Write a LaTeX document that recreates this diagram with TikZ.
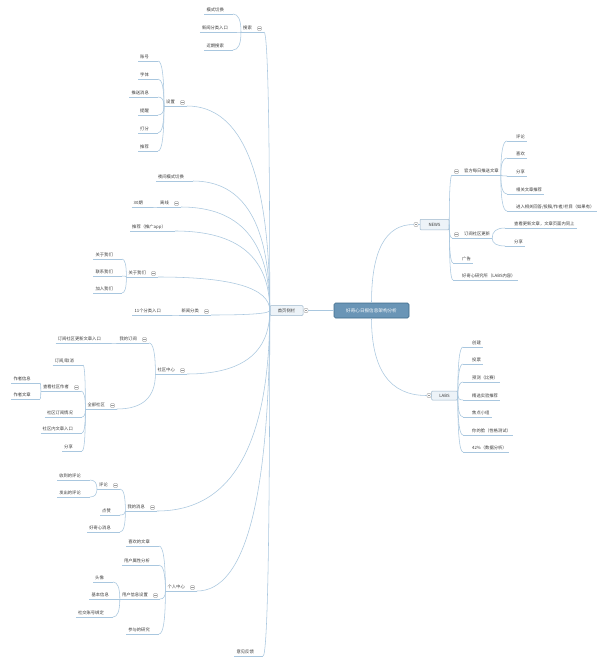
\documentclass[tikz,border=0pt]{standalone}
\usepackage{fontspec}
\setmainfont{Noto Sans CJK SC}
\usetikzlibrary{calc}
\definecolor{lc}{HTML}{A9C7DF}
\definecolor{txt}{HTML}{3A3A3A}
\definecolor{tg}{HTML}{9A9A9A}
\definecolor{cfill}{HTML}{6A95B6}
\definecolor{cdraw}{HTML}{3F6B8B}
\definecolor{bfill}{HTML}{EDF3F8}
\definecolor{bdraw}{HTML}{9DB7CC}
\tikzset{
  uline/.style={draw=lc, line width=0.55pt},
  cn/.style={draw=lc, line width=0.55pt},
  base/.style={font=\fontsize{4.3}{5}\selectfont, text=txt, inner xsep=2pt, inner ysep=1.2pt,
    text height=3.3pt, text depth=0.9pt,
    append after command={(\tikzlastnode.south west) edge[uline] (\tikzlastnode.south east)}},
  ll/.style={base, anchor=south east, execute at end node={\hspace{7pt}}},
  rl/.style={base, anchor=south west, execute at begin node={\hspace{7pt}}},
  lp/.style={base, anchor=south east, execute at end node={\hspace{10pt}},
    append after command={node[tog] at ([xshift=-4.5pt]\tikzlastnode.east) {}}},
  rp/.style={base, anchor=south west, execute at begin node={\hspace{10pt}},
    append after command={node[tog] at ([xshift=4.5pt]\tikzlastnode.west) {}}},
  tog/.style={circle, draw=tg, fill=white, line width=0.35pt, minimum size=4.6pt, inner sep=0pt,
    path picture={\draw[tg, line width=0.35pt] ([xshift=-1.3pt]path picture bounding box.center) -- ([xshift=1.3pt]path picture bounding box.center);}},
  br/.style={to path={.. controls ($(\tikztostart)!0.667!(\tikztotarget |- \tikztostart)$)
      and ($(\tikztotarget)!0.667!(\tikztotarget |- \tikztostart)$) .. (\tikztotarget)}},
  ctrbox/.style={rectangle, rounded corners=1.5pt, fill=cfill, draw=cdraw, line width=0.6pt, text=white,
    font=\fontsize{4.6}{5.5}\selectfont, minimum width=75pt, minimum height=15pt, inner sep=0pt},
  box/.style={rectangle, rounded corners=1pt, fill=bfill, draw=bdraw, line width=0.5pt, text=txt,
    font=\fontsize{4.3}{5}\selectfont, inner sep=0pt},
}
\begin{document}
\begin{tikzpicture}[x=1pt,y=-1pt]
\fill[white] (0,0) rectangle (600,663);
\useasboundingbox (0,0) rectangle (600,663);

% center and main boxes
\node[ctrbox] (c) at (371.5,310.5) {好奇心日报信息架构分析};
\node[box, minimum width=33pt, minimum height=10pt] (hp) at (286.5,310.5) {首页侧栏};
\node[tog] (hpc) at (306,310.5) {};
\draw[cn] (c.west) -- (hpc.east);

\node[box, minimum width=29pt, minimum height=10.5pt] (news) at (434.5,224.5) {NEWS};
\node[tog] (newsc) at (416,224.5) {};
\draw[cn] (newsc.east) -- (news.west);
\draw[cn] (newsc.west) to[br] (c.north);

\node[box, minimum width=26pt, minimum height=9pt] (labs) at (444.5,395.5) {LABS};
\node[tog] (labsc) at (429,395.5) {};
\draw[cn] (labsc.east) -- (labs.west);
\draw[cn] (labsc.west) to[br] (c.south);

% ---------- left side ----------
\node[lp] (ss) at (264,32) {搜索};
\node[ll] (ss1) at (233,14) {模式切换};
\node[ll] (ss2) at (237,32) {新闻分类入口};
\node[ll] (ss3) at (233,50) {近期搜索};

\node[lp] (sz) at (187,106) {设置};
\node[ll] (sz1) at (158,61) {账号};
\node[ll] (sz2) at (158,79) {字体};
\node[ll] (sz3) at (158,97) {推送消息};
\node[ll] (sz4) at (158,115) {提醒};
\node[ll] (sz5) at (158,133) {打分};
\node[ll] (sz6) at (158,151) {推荐};

\node[ll] (yj) at (193,181) {夜间模式切换};
\node[lp] (lx) at (181,207) {离线};
\node[ll] (lx1) at (152,207) {30期};
\node[ll] (tj) at (175,231) {推荐（推广app）};

\node[lp] (gy) at (158,277) {关于我们};
\node[ll] (gy1) at (122,259) {关于我们};
\node[ll] (gy2) at (122,276) {联系我们};
\node[ll] (gy3) at (122,293) {加入我们};

\node[lp] (xw) at (211,315) {新闻分类};
\node[ll] (xw1) at (170,315) {11个分类入口};

\node[lp] (sq) at (187,374) {社区中心};
\node[lp] (dy) at (149,343) {我的订阅};
\node[ll] (dy1) at (110,343) {订阅社区更新文章入口};
\node[lp] (qb) at (117,409) {全部社区};
\node[ll] (qb1) at (83,365) {订阅/取消};
\node[lp] (ck) at (81,391) {查看社区作者};
\node[ll] (ck1) at (40,383) {作者信息};
\node[ll] (ck2) at (40,399) {作者文章};
\node[ll] (qb3) at (82,417) {社区订阅情况};
\node[ll] (qb4) at (82,433) {社区内文章入口};
\node[ll] (qb5) at (82,451) {分享};

\node[lp] (xx) at (157,511) {我的消息};
\node[lp] (pl) at (120,489) {评论};
\node[ll] (pl1) at (90,480) {收到的评论};
\node[ll] (pl2) at (90,497) {发出的评论};
\node[ll] (xx2) at (120,515) {点赞};
\node[ll] (xx3) at (120,532) {好奇心消息};

\node[lp] (gr) at (197,591) {个人中心};
\node[ll] (gr1) at (159,546) {喜欢的文章};
\node[ll] (gr2) at (159,565) {用户属性分析};
\node[lp] (yh) at (160,599) {用户信息设置};
\node[ll] (yh1) at (113,582) {头像};
\node[ll] (yh2) at (118,599) {基本信息};
\node[ll] (yh3) at (113,617) {社交账号绑定};
\node[ll] (gr4) at (159,634) {参与的研究};

\node[ll] (fk) at (263,656) {意见反馈};

% left connectors
\foreach \n in {ss,sz,yj,lx,tj,gy,xw,sq,xx,gr,fk}
  \draw[cn] (\n.south east) to[br] (hp.west);
\foreach \n in {ss1,ss2,ss3} \draw[cn] (\n.south east) to[br] (ss.south west);
\foreach \n in {sz1,sz2,sz3,sz4,sz5,sz6} \draw[cn] (\n.south east) to[br] (sz.south west);
\draw[cn] (lx1.south east) to[br] (lx.south west);
\foreach \n in {gy1,gy2,gy3} \draw[cn] (\n.south east) to[br] (gy.south west);
\draw[cn] (xw1.south east) to[br] (xw.south west);
\foreach \n in {dy,qb} \draw[cn] (\n.south east) to[br] (sq.south west);
\draw[cn] (dy1.south east) to[br] (dy.south west);
\foreach \n in {qb1,ck,qb3,qb4,qb5} \draw[cn] (\n.south east) to[br] (qb.south west);
\foreach \n in {ck1,ck2} \draw[cn] (\n.south east) to[br] (ck.south west);
\foreach \n in {pl,xx2,xx3} \draw[cn] (\n.south east) to[br] (xx.south west);
\foreach \n in {pl1,pl2} \draw[cn] (\n.south east) to[br] (pl.south west);
\foreach \n in {gr1,gr2,yh,gr4} \draw[cn] (\n.south east) to[br] (gr.south west);
\foreach \n in {yh1,yh2,yh3} \draw[cn] (\n.south east) to[br] (yh.south west);

% ---------- right side: NEWS ----------
\node[rp] (gf) at (452,175) {官方每日推送文章};
\node[rl] (gf1) at (507,141) {评论};
\node[rl] (gf2) at (507,158) {喜欢};
\node[rl] (gf3) at (507,176) {分享};
\node[rl] (gf4) at (507,194) {相关文章推荐};
\node[rl] (gf5) at (507,211) {进入相关回答/投稿/作者/栏目（如果有）};
\node[rp] (dg) at (452,238) {订阅社区更新};
\node[rl] (dg1) at (505,228) {查看更新文章，文章页面内同上};
\node[rl] (dg2) at (505,246) {分享};
\node[rl] (gg) at (453,263) {广告};
\node[rl] (hq) at (453,280) {好奇心研究所（LABS内容）};

\foreach \n in {gf,dg,gg,hq} \draw[cn] (\n.south west) to[br] (news.east);
\foreach \n in {gf1,gf2,gf3,gf4,gf5} \draw[cn] (\n.south west) to[br] (gf.south east);
\foreach \n in {dg1,dg2} \draw[cn] (\n.south west) to[br] (dg.south east);

% ---------- right side: LABS ----------
\node[rl] (lb1) at (463,347) {创建};
\node[rl] (lb2) at (463,364) {投票};
\node[rl] (lb3) at (463,382) {预测（比赛）};
\node[rl] (lb4) at (463,400) {精选实验推荐};
\node[rl] (lb5) at (463,417) {焦点小组};
\node[rl] (lb6) at (463,435) {你的脸（性格测试）};
\node[rl] (lb7) at (463,452) {42\%（数据分析）};
\foreach \n in {lb1,lb2,lb3,lb4,lb5,lb6,lb7} \draw[cn] (\n.south west) to[br] (labs.east);
\end{tikzpicture}
\end{document}
